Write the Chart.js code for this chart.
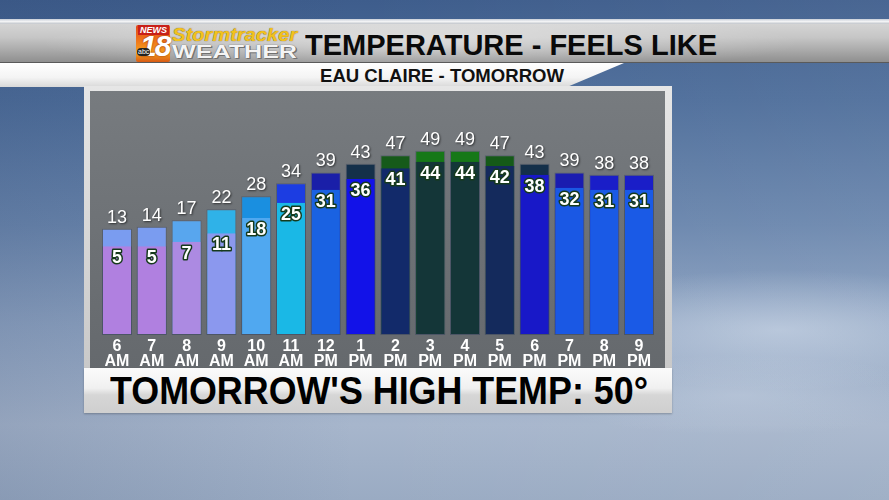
<!DOCTYPE html>
<html>
<head>
<meta charset="utf-8">
<script src="https://cdn.jsdelivr.net/npm/chart.js@4/dist/chart.umd.min.js"></script>
<style>
html,body{margin:0;padding:0;}
body{width:889px;height:500px;overflow:hidden;position:relative;
 background:linear-gradient(180deg,#3e5d8c 0%,#4d6d9a 20%,#6a86ad 45%,#8ea3c1 65%,#a7b6cc 85%,#9aabc3 100%);
 font-family:"Liberation Sans",Arial,sans-serif;}
.abs{position:absolute;}
#sky2{left:0;top:0;width:889px;height:500px;
 background:radial-gradient(ellipse 260px 60px at 780px 330px,rgba(215,225,238,0.55),rgba(215,225,238,0) 100%),
 radial-gradient(ellipse 200px 40px at 740px 395px,rgba(200,212,228,0.45),rgba(200,212,228,0) 100%),
 linear-gradient(90deg,rgba(40,60,100,0.15),rgba(255,255,255,0) 40%,rgba(255,255,255,0.06));}
#topline{left:0;top:19px;width:889px;height:5px;background:linear-gradient(180deg,#c9cfd8,#f2f3f5,#c0c4ca);}
#titlebar{left:0;top:24px;width:889px;height:38px;
 background:linear-gradient(180deg,#d4d4d4 0%,#c6c6c6 35%,#a9a9a9 70%,#8f8f8f 100%);
 border-bottom:1px solid #5a5a5a;}
#titleglow{left:0;top:24px;width:889px;height:38px;
 background:radial-gradient(ellipse 380px 30px at 420px 19px,rgba(255,255,255,0.45),rgba(255,255,255,0));}
#subbar{left:0;top:63px;width:630px;height:24px;
 background:linear-gradient(180deg,#ffffff 0%,#f4f4f4 60%,#d9d9d9 100%);
 clip-path:polygon(0 0,624px 0,567px 100%,0 100%);}
.txt{white-space:nowrap;transform-origin:0 50%;line-height:1;}
#title{left:305px;top:31px;font-family:"Liberation Sans Narrow","Liberation Sans",Arial,sans-serif;font-weight:bold;font-size:29px;color:#0a0a0a;}
#subtitle{left:320px;top:66px;font-family:"Liberation Sans Narrow","Liberation Sans",Arial,sans-serif;font-weight:bold;font-size:19px;color:#111;}
#logo18{left:136px;top:25px;width:34px;height:37px;background:linear-gradient(180deg,#e2451a 0%,#f07a1c 45%,#f6a21e 75%,#d85a14 100%);border-radius:2px;}
#news{left:138px;top:25px;font-size:9px;font-weight:bold;color:#fff;background:#c8201a;padding:0 2px;line-height:10px;font-style:italic;}
#n18{left:140px;top:31px;font-size:30px;font-weight:bold;color:#fff;font-style:italic;letter-spacing:-2px;line-height:30px;text-shadow:0 0 2px #8a2a08;}
#abc{left:137px;top:48px;font-size:7px;color:#fff;background:#222;border-radius:5px;padding:0 1px;line-height:8px;}
#storm{left:172px;top:26px;font-size:18px;font-weight:bold;font-style:italic;color:#f2c21e;line-height:18px;text-shadow:0 0 1px #6a4a00;}
#weather{left:172px;top:42px;font-size:19px;font-weight:bold;color:#f4f4f4;line-height:19px;text-shadow:0 0 1px #444,1px 1px 0 #777;}
#frame{left:84px;top:86px;width:588px;height:282px;background:linear-gradient(180deg,#e6e6e6,#c9c9c9);}
#panel{left:90px;top:91px;width:575px;height:277px;background:linear-gradient(180deg,#777b7f 0%,#6e7276 50%,#65696d 100%);}
#banner{left:84px;top:368px;width:588px;height:45px;
 background:linear-gradient(180deg,#fbfbfb 0%,#f0f0f0 45%,#d6d6d6 60%,#cfcfcf 100%);
 box-shadow:0 1px 2px rgba(0,0,0,0.25);}
#high{left:110px;top:372px;font-size:38px;font-weight:bold;color:#000;}
#c{position:absolute;left:0;top:0;}
</style>
</head>
<body>
<div id="sky2" class="abs"></div>
<div id="topline" class="abs"></div>
<div id="titlebar" class="abs"></div>
<div id="titleglow" class="abs"></div>
<div id="subbar" class="abs"></div>
<div id="logo18" class="abs"></div>
<div id="news" class="abs">NEWS</div>
<div id="n18" class="abs">18</div>
<div id="abc" class="abs">abc</div>
<div id="storm" class="abs txt" data-w="125">Stormtracker</div>
<div id="weather" class="abs txt" data-w="125">WEATHER</div>
<div id="title" class="abs txt" data-w="412">TEMPERATURE - FEELS LIKE</div>
<div id="subtitle" class="abs txt" data-w="244">EAU CLAIRE - TOMORROW</div>
<div id="frame" class="abs"></div>
<div id="panel" class="abs"></div>
<div id="banner" class="abs"></div>
<div id="high" class="abs txt" data-w="538">TOMORROW'S HIGH TEMP: 50°</div>
<canvas id="c" width="889" height="500"></canvas>
<script>
// ---- data ----
const hours = ["6","7","8","9","10","11","12","1","2","3","4","5","6","7","8","9"];
const periods = ["AM","AM","AM","AM","AM","AM","PM","PM","PM","PM","PM","PM","PM","PM","PM","PM"];
const temperature = [13,14,17,22,28,34,39,43,47,49,49,47,43,39,38,38];
const feelsLike = [5,5,7,11,18,25,31,36,41,44,44,42,38,32,31,31];
const tempColors = ["#7a9cf0","#7a9cf0","#58a6ee","#2fb2e8","#1a8fe0","#1c3de2","#1a1fa8","#14304a","#165a1a","#167818","#167818","#155a18","#14304a","#1a1cb0","#1a1ec8","#1a1ec8"];
const feelsColors = ["#b080e0","#b080e0","#ac8ae2","#8b98ee","#50a8f0","#1ab8e6","#1a62e2","#1212e8","#122a6a","#143638","#143638","#142a5c","#1818c8","#1a58e4","#1a5ae6","#1a5ae6"];
const axisMin = -36, axisMax = 60;

// fit text widths
document.querySelectorAll('.txt').forEach(el=>{
  const w = el.getBoundingClientRect().width;
  const target = +el.dataset.w;
  if (w>0) el.style.transform = 'scaleX(' + (target/w) + ')';
});

const labels = hours.map((h,i)=>[h, periods[i]]);

const valueLabels = {
  id:'valueLabels',
  afterDatasetsDraw(chart){
    const ctx = chart.ctx;
    const mTemp = chart.getDatasetMeta(1);
    const mFeel = chart.getDatasetMeta(0);
    ctx.save();
    ctx.textAlign='center';
    ctx.textBaseline='middle';
    mTemp.data.forEach((bar,i)=>{
      ctx.font='normal 18px "Liberation Sans", Arial, sans-serif';
      ctx.shadowColor='rgba(0,0,0,0.6)';
      ctx.shadowBlur=2;
      ctx.shadowOffsetX=1; ctx.shadowOffsetY=1;
      ctx.fillStyle='#ffffff';
      ctx.fillText(String(temperature[i]), bar.x, bar.y-11);
    });
    ctx.shadowColor='transparent';
    mFeel.data.forEach((bar,i)=>{
      ctx.font='bold 18px "Liberation Sans", Arial, sans-serif';
      ctx.lineWidth=3;
      ctx.lineJoin='round';
      ctx.strokeStyle='#163a1c';
      ctx.strokeText(String(feelsLike[i]), bar.x, bar.y+12);
      ctx.fillStyle='#ffffff';
      ctx.fillText(String(feelsLike[i]), bar.x, bar.y+12);
    });
    ctx.restore();
  }
};

new Chart(document.getElementById('c'), {
  type:'bar',
  data:{
    labels: labels,
    datasets:[
      {label:'Feels like', data:feelsLike, backgroundColor:feelsColors, base:axisMin,
       borderColor:'rgba(70,80,100,0.55)', borderWidth:{top:0,left:1,right:1,bottom:1}, borderSkipped:false,
       barPercentage:0.862, categoryPercentage:1},
      {label:'Temperature', data:temperature, backgroundColor:tempColors, base:axisMin,
       borderColor:'rgba(70,80,100,0.55)', borderWidth:1, borderSkipped:false,
       barPercentage:0.862, categoryPercentage:1}
    ]
  },
  options:{
    responsive:false,
    animation:false,
    devicePixelRatio:1,
    layout:{padding:{left:99.6,right:232.6,top:127,bottom:132}},
    plugins:{legend:{display:false},tooltip:{enabled:false},title:{display:false}},
    scales:{
      x:{stacked:true,
         grid:{display:false,drawTicks:false},
         border:{display:false},
         ticks:{color:'#ffffff',padding:4,maxRotation:0,autoSkip:false,
                font:{family:'"Liberation Sans", Arial, sans-serif',size:16,weight:'bold',lineHeight:0.95}},
         afterFit(s){ s.height = 33; }
      },
      y:{display:false,stacked:false,min:axisMin,max:axisMax,beginAtZero:false}
    }
  },
  plugins:[valueLabels]
});
</script>
</body>
</html>
